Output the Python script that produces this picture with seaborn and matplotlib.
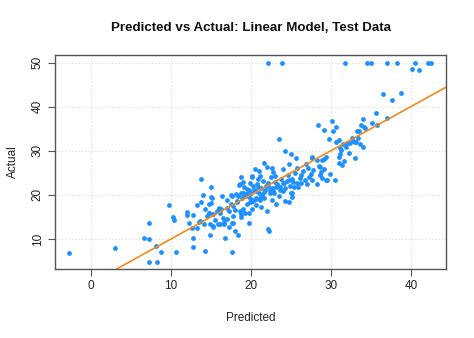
import matplotlib
matplotlib.use("Agg")
import matplotlib.pyplot as plt
import seaborn as sns
import pandas as pd

predicted = [
    # x < 12
    -2.7, 3.0, 6.6, 7.2, 7.2, 8.1, 8.75, 7.2, 8.2, 9.8, 10.2, 10.4, 10.6,
    # 12 - 18
    12.0, 12.0, 12.8, 12.3, 12.6, 13.2, 13.6, 12.8, 12.7, 14.25, 17.6, 13.8, 15.0, 14.0, 15.0, 15.0,
    13.8, 14.5, 14.8, 15.2, 15.7, 16.0, 16.1, 17.0, 17.5, 16.4, 17.0, 17.5, 16.5, 17.0, 14.9, 15.2,
    16.1, 17.2, 18.0, 18.4, 14.9, 16.75, 13.5, 14.2, 15.5, 16.6, 17.6, 17.8, 18.0, 13.3,
    15.1, 14.8, 16.2, 17.6, 17.8, 17.3, 16.6, 15.9, 14.1, 15.3, 17.8, 14.7,
    # 18 - 22
    18.5, 18.6, 18.1, 18.7, 19.7, 20.2, 19.5, 19.5, 19.7, 20.2, 21.2, 21.3, 22.0, 22.0, 22.3,
    18.9, 19.2, 19.8, 20.0, 20.4, 20.7, 21.0, 21.3, 21.6, 20.1, 20.6, 21.1, 18.3, 19.0, 19.3,
    18.7, 20.2, 21.7, 21.9, 21.5, 20.8, 19.9, 19.0, 21.0, 20.5, 18.8, 22.2, 21.6, 20.0,
    19.4, 20.3, 20.9, 21.4, 19.1, 20.6, 21.8, 18.4,
    19.0, 18.2, 19.9, 20.3, 20.7, 21.1, 20.9, 19.5, 19.7, 18.6, 18.7,
    # 22 - 26
    22.8, 22.5, 23.0, 23.4, 23.8, 24.2, 24.5, 25.1, 25.8, 26.1, 26.3, 22.4, 22.9, 23.5, 24.0,
    24.3, 25.0, 22.6, 23.2, 24.25, 24.8, 23.5, 24.3, 25.0, 25.6, 24.8, 25.8, 23.9, 22.7, 23.0,
    24.6, 25.5, 22.2, 23.7, 25.4, 24.0, 25.2, 23.3, 24.9, 22.6,
    22.2, 24.0, 24.8, 25.3, 25.9, 25.1, 22.4, 22.8, 23.2, 23.6, 22.2,
    # 26 - 30
    27.6, 28.3, 28.9, 29.4, 28.6, 28.7, 28.9, 29.4, 27.5, 27.7, 28.3, 26.8, 27.0, 28.4, 29.1,
    29.8, 27.7, 29.1, 28.5, 28.8, 29.5, 26.5, 27.2, 26.9, 27.8, 29.2, 29.9, 26.3, 27.3,
    # 30 - 35
    30.2, 30.6, 30.3, 30.5, 31.0, 31.3, 31.1, 31.0, 31.0, 31.6, 32.0, 32.6, 33.0, 33.0, 34.0,
    33.5, 34.1, 33.8, 34.0, 31.8, 34.5, 31.5, 31.9, 32.4, 32.8, 33.4, 31.2, 30.7, 33.6, 32.3,
    31.4, 34.3, 33.3, 33.2,
    # 35+
    35.0, 35.2, 35.7, 35.8, 36.5, 37.0, 37.6, 38.8, 40.1, 41.0, 37.0, 38.3, 40.5, 42.2, 42.5,
]

actual = [
    # x < 12
    6.8, 7.9, 10.3, 10.0, 13.6, 8.3, 7.0, 4.8, 4.8, 17.6, 15.0, 14.2, 7.0,
    # 12 - 18
    16.2, 15.4, 15.4, 13.6, 12.6, 12.6, 14.0, 10.3, 8.1, 7.3, 7.0, 23.5, 21.7, 19.9, 19.5, 18.1,
    18.3, 15.3, 16.0, 15.6, 16.4, 17.1, 16.0, 17.1, 17.9, 19.8, 18.8, 20.0, 14.8, 14.5, 13.3, 12.7,
    13.3, 12.7, 11.8, 10.9, 10.9, 10.2, 13.9, 16.8, 14.3, 13.8, 13.6, 15.2, 16.6, 17.6,
    19.3, 18.0, 16.8, 19.8, 17.5, 16.4, 13.3, 13.3, 13.3, 13.0, 13.7, 15.8,
    # 18 - 22
    22.3, 22.4, 20.2, 20.5, 21.2, 24.1, 21.3, 17.9, 13.7, 24.3, 24.3, 17.3, 16.4, 26.4, 11.7,
    19.2, 19.8, 19.6, 20.4, 21.0, 19.2, 20.5, 21.6, 20.6, 18.6, 17.8, 18.8, 18.6, 16.8, 15.8,
    15.0, 16.8, 19.4, 22.0, 23.2, 22.5, 22.8, 23.0, 25.4, 25.8, 24.0, 50.0, 27.2, 19.0,
    20.1, 22.0, 23.6, 19.9, 21.8, 20.9, 21.1, 19.7,
    20.5, 18.3, 18.3, 18.6, 19.0, 19.4, 21.7, 20.2, 16.0, 16.4, 15.6,
    # 22 - 26
    25.1, 24.0, 23.0, 22.0, 23.5, 22.7, 23.1, 23.6, 22.8, 23.9, 22.8, 21.0, 20.4, 19.8, 20.8,
    21.5, 20.5, 18.8, 18.0, 18.6, 18.3, 32.7, 30.0, 29.2, 28.3, 27.1, 26.2, 50.0, 26.0, 24.3,
    24.6, 25.0, 22.7, 21.2, 21.8, 25.8, 19.6, 22.4, 21.9, 21.6,
    22.0, 22.8, 23.3, 23.0, 21.8, 20.4, 20.5, 20.9, 21.7, 21.7, 12.2,
    # 26 - 30
    28.5, 27.9, 27.9, 28.5, 26.4, 24.5, 23.9, 23.3, 24.7, 23.3, 22.4, 23.3, 22.4, 35.9, 34.7,
    32.7, 28.3, 28.2, 26.6, 25.1, 23.3, 25.3, 26.0, 27.0, 25.6, 25.8, 24.8, 24.4, 24.0,
    # 30 - 35
    36.7, 35.3, 34.4, 23.4, 32.4, 30.2, 29.2, 28.5, 27.3, 27.7, 31.7, 33.0, 31.9, 28.3, 30.8,
    34.4, 35.3, 35.9, 37.2, 50.0, 50.0, 31.5, 30.8, 31.8, 32.3, 33.0, 30.6, 32.0, 31.5, 29.5,
    26.8, 35.2, 34.4, 31.9,
    # 35+
    50.0, 36.2, 38.5, 35.9, 42.9, 37.4, 41.4, 43.2, 48.5, 48.3, 50.0, 50.0, 50.0, 50.0, 50.0,
]

x_ticks = [0, 10, 20, 30, 40]
y_ticks = [10, 20, 30, 40, 50]
line_intercept = 0
line_slope = 1

df = pd.DataFrame({"Predicted": predicted, "Actual": actual})

sns.set_style("white")
plt.rcParams["font.family"] = ["Liberation Sans", "DejaVu Sans"]

fig = plt.figure(figsize=(4.74, 3.38), dpi=100)
ax = fig.add_axes([55 / 474, 1 - 269 / 338, (446 - 55) / 474, (269 - 55) / 338])

ax.set_xlim(-4.5, 44.4)
ax.set_ylim(3.2, 51.7)
ax.set_xticks(x_ticks)
ax.set_yticks(y_ticks)
ax.grid(True, color="#d9d9d9", linestyle=(0, (1, 2)), linewidth=0.8)
ax.set_axisbelow(True)

sns.scatterplot(data=df, x="Predicted", y="Actual", ax=ax, color="#1E90FF",
                s=12, linewidth=0, zorder=3)
ax.axline((0, line_intercept), slope=line_slope, color="#F28A1A", linewidth=1.2, zorder=4)

for sp in ax.spines.values():
    sp.set_color("#555555")
    sp.set_linewidth(1.0)

ax.tick_params(axis="both", direction="out", length=5, width=0.8, color="#555555",
               labelsize=8.5, labelcolor="#222222", pad=3,
               bottom=True, left=True)
for lab in ax.get_yticklabels():
    lab.set_rotation(90)
    lab.set_va("center")

ax.set_xlabel("Predicted", fontsize=8.5, color="#222222", labelpad=14)
ax.set_ylabel("Actual", fontsize=8.5, color="#222222", labelpad=9)
fig.text(251 / 474, 1 - 28 / 338, "Predicted vs Actual: Linear Model, Test Data",
         ha="center", va="center", fontsize=9.6, fontweight="bold", color="#111111")

fig.savefig("out.png", dpi=100)
